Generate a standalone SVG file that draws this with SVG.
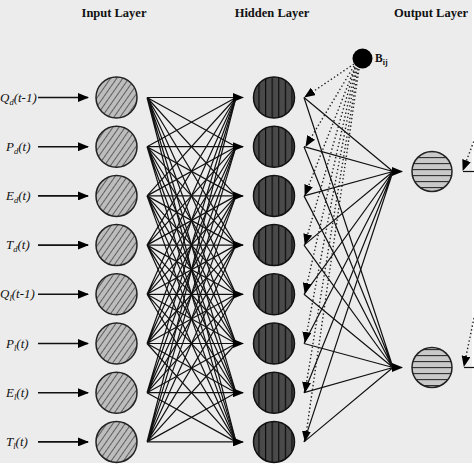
<svg xmlns="http://www.w3.org/2000/svg" width="474" height="474" viewBox="0 0 474 474">
<style>
.hdr{font-family:"Liberation Serif","Times New Roman",serif;font-weight:bold;font-size:12.5px;fill:#111;text-anchor:middle}
.lbl{font-family:"Liberation Serif","Times New Roman",serif;font-style:italic;font-size:13px;fill:#111}
.sub{font-size:8.5px}
.ln{stroke:#111;stroke-width:1.2;fill:none}
.ina{stroke:#111;stroke-width:1.6;fill:none}
.dot{stroke:#222;stroke-width:1.4;fill:none;stroke-dasharray:1.4 2.4}
.inN{fill:url(#hatch);stroke:#222;stroke-width:1.5}
.hidN{fill:url(#vstripe);stroke:#111;stroke-width:1.5}
.outN{fill:url(#hstripe);stroke:#222;stroke-width:1.5}
</style>
<defs>
<pattern id="hatch" patternUnits="userSpaceOnUse" width="5" height="5" patternTransform="rotate(35)">
<rect width="5" height="5" fill="#bdbdbd"/>
<line x1="0" y1="0" x2="0" y2="5" stroke="#2a2a2a" stroke-width="1.3"/>
</pattern>
<pattern id="vstripe" patternUnits="userSpaceOnUse" width="6.6" height="10" x="1">
<rect width="6.6" height="10" fill="#4a4a4a"/>
<line x1="0.5" y1="0" x2="0.5" y2="10" stroke="#0a0a0a" stroke-width="1.3"/>
</pattern>
<pattern id="hstripe" patternUnits="userSpaceOnUse" width="10" height="6" y="1">
<rect width="10" height="6" fill="#c9c9c9"/>
<line x1="0" y1="0.5" x2="10" y2="0.5" stroke="#333" stroke-width="1.3"/>
</pattern>
<marker id="ah" markerUnits="userSpaceOnUse" markerWidth="11" markerHeight="9" refX="10" refY="4.5" orient="auto">
<path d="M0,0 L11,4.5 L0,9 z" fill="#000"/>
</marker>
</defs>
<rect x="0" y="0" width="474" height="474" fill="#ffffff"/>
<rect x="0" y="0" width="472" height="463" fill="#ececec"/>

<g id="headers">
<text class="hdr" x="114" y="17">Input Layer</text>
<text class="hdr" x="272" y="17">Hidden Layer</text>
<text class="hdr" x="431" y="17">Output Layer</text>
</g>

<g id="labels">
<text class="lbl" x="0" y="101.5">Q<tspan class="sub" dy="3">d</tspan><tspan dy="-3">(t-1)</tspan></text>
<text class="lbl" x="6" y="150.7">P<tspan class="sub" dy="3">d</tspan><tspan dy="-3">(t)</tspan></text>
<text class="lbl" x="6" y="199.9">E<tspan class="sub" dy="3">d</tspan><tspan dy="-3">(t)</tspan></text>
<text class="lbl" x="6" y="249.1">T<tspan class="sub" dy="3">d</tspan><tspan dy="-3">(t)</tspan></text>
<text class="lbl" x="0" y="298.3">Q<tspan class="sub" dy="3">l</tspan><tspan dy="-3">(t-1)</tspan></text>
<text class="lbl" x="6" y="347.5">P<tspan class="sub" dy="3">l</tspan><tspan dy="-3">(t)</tspan></text>
<text class="lbl" x="6" y="396.7">E<tspan class="sub" dy="3">l</tspan><tspan dy="-3">(t)</tspan></text>
<text class="lbl" x="6" y="445.9">T<tspan class="sub" dy="3">l</tspan><tspan dy="-3">(t)</tspan></text>
</g>

<g id="connectors">
<g id="input-arrows" class="ina">
<path d="M38,97.5H88" marker-end="url(#ah)"/>
<path d="M38,146.7H88" marker-end="url(#ah)"/>
<path d="M38,195.9H88" marker-end="url(#ah)"/>
<path d="M38,245.1H88" marker-end="url(#ah)"/>
<path d="M38,294.3H88" marker-end="url(#ah)"/>
<path d="M38,343.5H88" marker-end="url(#ah)"/>
<path d="M38,392.7H88" marker-end="url(#ah)"/>
<path d="M38,441.9H88" marker-end="url(#ah)"/>
</g>
<g id="input-hidden" class="ln">
<path d="M147,97.5L236,146.7M147,97.5L236,195.9M147,97.5L236,245.1M147,97.5L236,294.3M147,97.5L236,343.5M147,97.5L236,392.7M147,97.5L236,441.9"/>
<path d="M147,146.7L236,97.5M147,146.7L236,195.9M147,146.7L236,245.1M147,146.7L236,294.3M147,146.7L236,343.5M147,146.7L236,392.7M147,146.7L236,441.9"/>
<path d="M147,195.9L236,97.5M147,195.9L236,146.7M147,195.9L236,245.1M147,195.9L236,294.3M147,195.9L236,343.5M147,195.9L236,392.7M147,195.9L236,441.9"/>
<path d="M147,245.1L236,97.5M147,245.1L236,146.7M147,245.1L236,195.9M147,245.1L236,294.3M147,245.1L236,343.5M147,245.1L236,392.7M147,245.1L236,441.9"/>
<path d="M147,294.3L236,97.5M147,294.3L236,146.7M147,294.3L236,195.9M147,294.3L236,245.1M147,294.3L236,343.5M147,294.3L236,392.7M147,294.3L236,441.9"/>
<path d="M147,343.5L236,97.5M147,343.5L236,146.7M147,343.5L236,195.9M147,343.5L236,245.1M147,343.5L236,294.3M147,343.5L236,392.7M147,343.5L236,441.9"/>
<path d="M147,392.7L236,97.5M147,392.7L236,146.7M147,392.7L236,195.9M147,392.7L236,245.1M147,392.7L236,294.3M147,392.7L236,343.5M147,392.7L236,441.9"/>
<path d="M147,441.9L236,97.5M147,441.9L236,146.7M147,441.9L236,195.9M147,441.9L236,245.1M147,441.9L236,294.3M147,441.9L236,343.5M147,441.9L236,392.7"/>
<path d="M147,97.5H243" marker-end="url(#ah)"/>
<path d="M147,146.7H243" marker-end="url(#ah)"/>
<path d="M147,195.9H243" marker-end="url(#ah)"/>
<path d="M147,245.1H243" marker-end="url(#ah)"/>
<path d="M147,294.3H243" marker-end="url(#ah)"/>
<path d="M147,343.5H243" marker-end="url(#ah)"/>
<path d="M147,392.7H243" marker-end="url(#ah)"/>
<path d="M147,441.9H243" marker-end="url(#ah)"/>
</g>
<g id="hidden-output" class="ln">
<path d="M304,97.5L393,171.5M304,146.7L393,171.5M304,195.9L393,171.5M304,245.1L393,171.5M304,294.3L393,171.5M304,343.5L393,171.5M304,392.7L393,171.5M304,441.9L393,171.5"/>
<path d="M304,97.5L393,367.5M304,146.7L393,367.5M304,195.9L393,367.5M304,245.1L393,367.5M304,294.3L393,367.5M304,343.5L393,367.5M304,392.7L393,367.5M304,441.9L393,367.5"/>
<path d="M392,171.5H402" marker-end="url(#ah)"/>
<path d="M392,367.5H402" marker-end="url(#ah)"/>
</g>
<g id="bias-hidden" class="dot">
<path d="M354,64L305,97" marker-end="url(#ah)"/>
<path d="M354,66L306,146" marker-end="url(#ah)"/>
<path d="M355,67L305,195" marker-end="url(#ah)"/>
<path d="M355,68L305,244" marker-end="url(#ah)"/>
<path d="M356,68L305,293" marker-end="url(#ah)"/>
<path d="M357,68L305,342" marker-end="url(#ah)"/>
<path d="M358,69L305,392" marker-end="url(#ah)"/>
<path d="M359,69L305,441" marker-end="url(#ah)"/>
</g>
<g id="output-side" >
<path class="dot" d="M475,138L463,170" marker-end="url(#ah)"/>
<path class="ln" d="M463,171.5H474"/>
<path class="dot" d="M474,318L464,366" marker-end="url(#ah)"/>
<path class="ln" d="M464,367.5H474"/>
</g>
</g>

<g id="input-nodes">
<g id="in1"><circle class="inN" cx="116.5" cy="97.5" r="20.5"/></g>
<g id="in2"><circle class="inN" cx="116.5" cy="146.7" r="20.5"/></g>
<g id="in3"><circle class="inN" cx="116.5" cy="195.9" r="20.5"/></g>
<g id="in4"><circle class="inN" cx="116.5" cy="245.1" r="20.5"/></g>
<g id="in5"><circle class="inN" cx="116.5" cy="294.3" r="20.5"/></g>
<g id="in6"><circle class="inN" cx="116.5" cy="343.5" r="20.5"/></g>
<g id="in7"><circle class="inN" cx="116.5" cy="392.7" r="20.5"/></g>
<g id="in8"><circle class="inN" cx="116.5" cy="441.9" r="20.5"/></g>
</g>
<g id="hidden-nodes">
<g id="h1"><circle class="hidN" cx="274" cy="97.5" r="20.5"/></g>
<g id="h2"><circle class="hidN" cx="274" cy="146.7" r="20.5"/></g>
<g id="h3"><circle class="hidN" cx="274" cy="195.9" r="20.5"/></g>
<g id="h4"><circle class="hidN" cx="274" cy="245.1" r="20.5"/></g>
<g id="h5"><circle class="hidN" cx="274" cy="294.3" r="20.5"/></g>
<g id="h6"><circle class="hidN" cx="274" cy="343.5" r="20.5"/></g>
<g id="h7"><circle class="hidN" cx="274" cy="392.7" r="20.5"/></g>
<g id="h8"><circle class="hidN" cx="274" cy="441.9" r="20.5"/></g>
</g>
<g id="output-nodes">
<g id="o1"><circle class="outN" cx="432" cy="171.5" r="20"/></g>
<g id="o2"><circle class="outN" cx="432" cy="367.5" r="20"/></g>
</g>
<g id="bias">
<circle cx="362.5" cy="58.5" r="10" fill="#000"/>
<text x="375" y="62" font-family="'Liberation Serif','Times New Roman',serif" font-weight="bold" font-size="11.5" fill="#111">B<tspan font-size="8" dy="2.5">ij</tspan></text>
</g>
</svg>
